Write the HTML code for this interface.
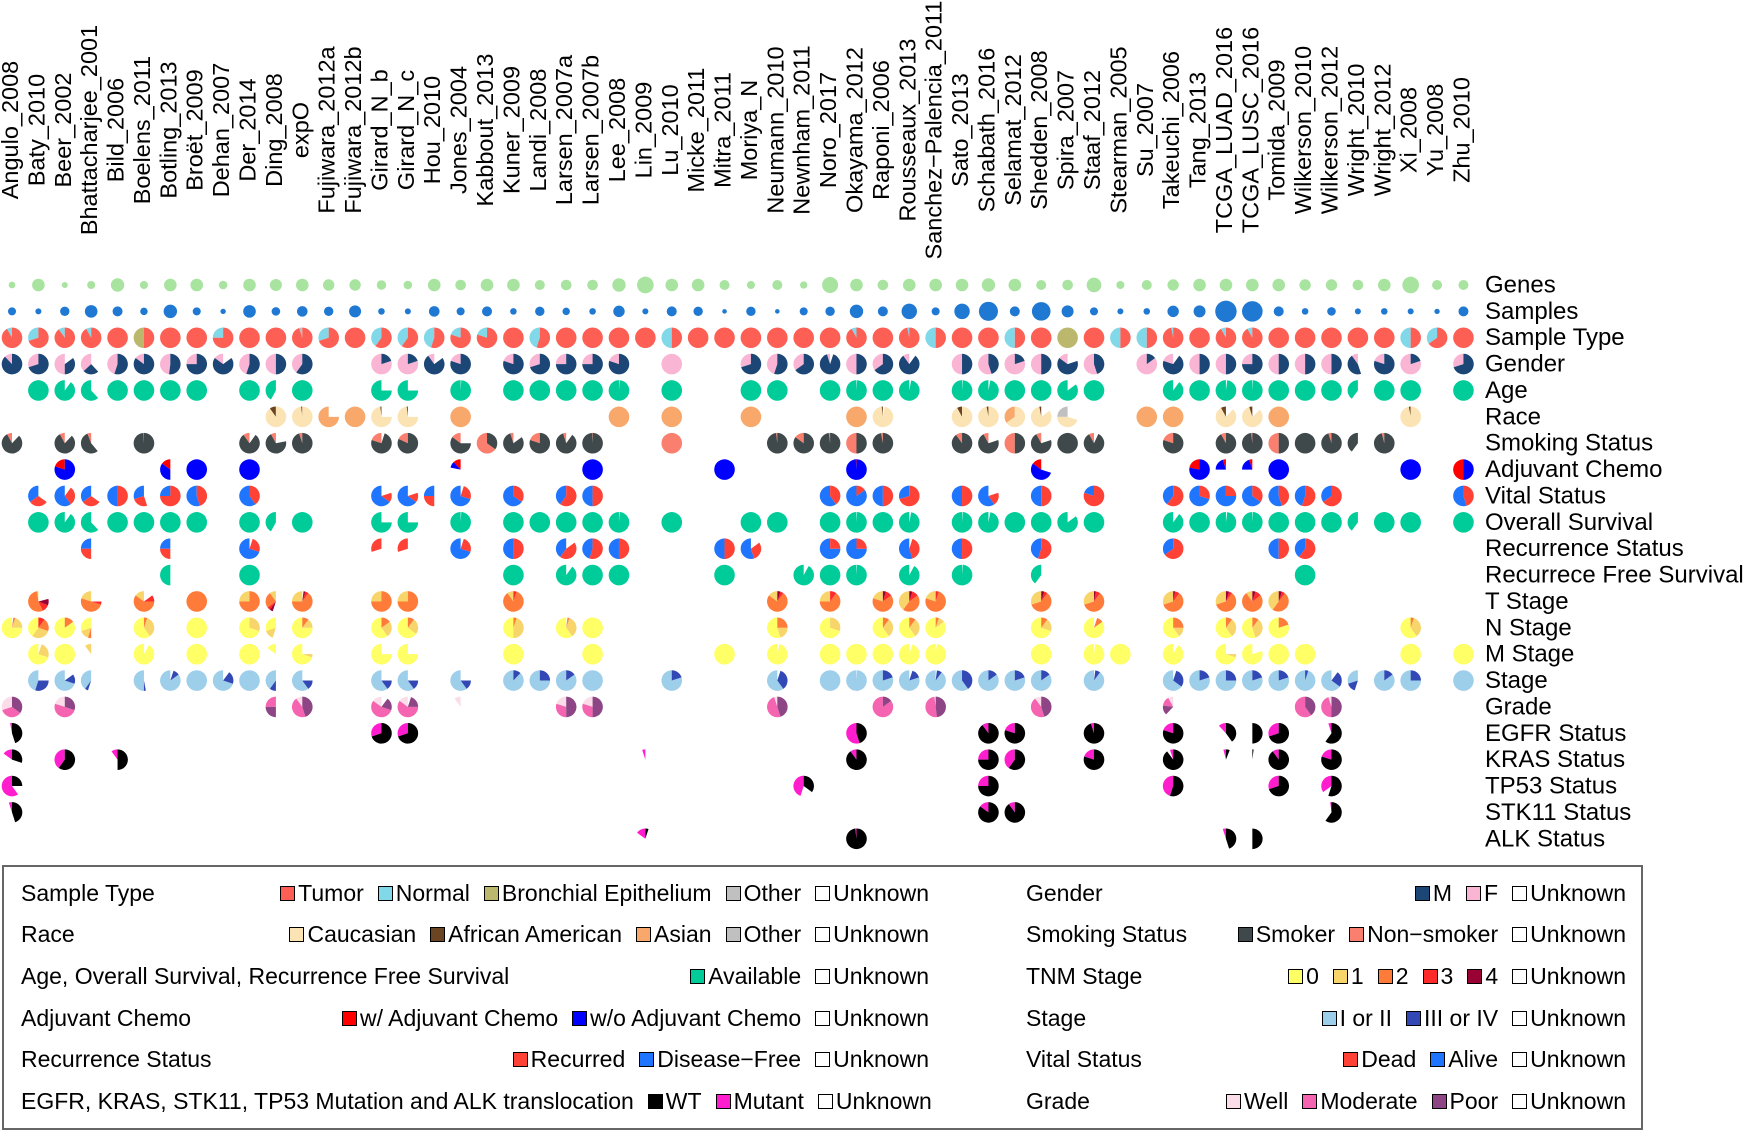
<!DOCTYPE html>
<html>
<head>
<meta charset="utf-8">
<style>
  html, body { margin:0; padding:0; background:#fff; }
  body { width:1747px; height:1132px; position:relative; overflow:hidden; font-family:"Liberation Sans", Arial, sans-serif; }
  #chart { position:absolute; left:0; top:0; }
  .legend-box { position:absolute; left:2px; top:865px; width:1637px; height:261px; border:2px solid #666; }
  .lrow { position:absolute; height:30px; display:flex; align-items:center; font-size:23px; color:#000; white-space:nowrap; }
  .lrow .lab { flex:1; }
  .item { display:flex; align-items:center; margin-left:14px; }
  .sw { width:13px; height:13px; border:1px solid #000; margin-right:3px; }
</style>
</head>
<body>
<svg id="chart" width="1747" height="860"></svg>

<div class="legend-box"></div>
<div id="legend"></div>

<script>
// ---------- data ----------
const _ = null;
const datasets = ["Angulo_2008","Baty_2010","Beer_2002","Bhattacharjee_2001","Bild_2006","Boelens_2011","Botling_2013","Broët_2009","Dehan_2007","Der_2014","Ding_2008","expO","Fujiwara_2012a","Fujiwara_2012b","Girard_N_b","Girard_N_c","Hou_2010","Jones_2004","Kabbout_2013","Kuner_2009","Landi_2008","Larsen_2007a","Larsen_2007b","Lee_2008","Lin_2009","Lu_2010","Micke_2011","Mitra_2011","Moriya_N","Neumann_2010","Newnham_2011","Noro_2017","Okayama_2012","Raponi_2006","Rousseaux_2013","Sanchez\u2212Palencia_2011","Sato_2013","Schabath_2016","Selamat_2012","Shedden_2008","Spira_2007","Staaf_2012","Stearman_2005","Su_2007","Takeuchi_2006","Tang_2013","TCGA_LUAD_2016","TCGA_LUSC_2016","Tomida_2009","Wilkerson_2010","Wilkerson_2012","Wright_2010","Wright_2012","Xi_2008","Yu_2008","Zhu_2010"];
const rowLabels = ["Genes","Samples","Sample Type","Gender","Age","Race","Smoking Status","Adjuvant Chemo","Vital Status","Overall Survival","Recurrence Status","Recurrece Free Survival","T Stage","N Stage","M Stage","Stage","Grade","EGFR Status","KRAS Status","TP53 Status","STK11 Status","ALK Status"];

// genes in thousands
const genes = [4.3,15.5,3.5,6.3,17.5,6.3,15.5,15.5,7.2,15.5, 14,15.5,12.7,12.7,8.6,7.2,15.5,11,15.5,15.5, 9.8,11,11,17.5,27,15.5,15.5,9.8,6.3,9.8, 5.3,25,15.5,11,15.5,15.5,15.5,17.5,15.5,9.8, 11,21,6.3,9.8,12.7,15.5,15.5,15.5,15.5,12.7, 12.7,11,15.5,27,9.8,9.8];
const samples = [76,43,104,188,118,65,212,76,34,188, 87,133,104,170,51,43,133,76,118,51, 104,65,51,154,43,118,104,25,104,25, 76,104,212,118,280,76,280,430,118,409, 170,76,43,51,154,170,541,501,118,51, 87,43,51,43,34,118];

// [Normal, Bronchial, Other, Tumor]
const T1=[0,0,0,1];
const sampleType = [[.08,0,0,.92],[.3,0,0,.7],[.1,0,0,.9],[.08,0,0,.92],T1,[0,.5,0,.5],T1,T1,[.25,0,0,.75],T1,
 T1,[0,0,.05,.95],[.3,0,0,.7],T1,[.4,0,0,.6],[.4,0,0,.6],[.45,0,0,.55],[.2,0,0,.8],[.2,0,0,.8],T1,
 [.45,0,0,.55],T1,T1,T1,T1,[.5,0,0,.5],T1,T1,T1,T1,
 T1,T1,[.08,0,0,.92],T1,[.03,0,0,.97],[.5,0,0,.5],T1,T1,[.5,0,0,.5],T1,
 [0,1,0,0],T1,[.5,0,0,.5],[.5,0,0,.5],[.03,0,0,.97],T1,[.08,0,0,.92],[.08,0,0,.92],T1,T1,
 T1,T1,T1,[.5,0,0,.5],[.35,0,0,.65],T1];
// [F, M]
const gender = [[.12,.88],[.3,.7],[.5,.35],[.37,.25],[.45,.55],[.15,.85],[.48,.52],[.25,.75],[.15,.7],[.45,.55],
 [.5,.5],[.4,.6],_,_,[.8,.2],[.8,.2],[.1,.75],[.2,.8],_,[.2,.8],
 [.3,.7],[.25,.75],[.25,.75],[.2,.8],_,[1,0],_,_,[.3,.7],[.45,.55],
 [.35,.65],[.05,.9],[.5,.5],[.35,.65],[.1,.8],_,[.5,.5],[.55,.45],[.8,.2],[.5,.5],
 [.15,.65],[.55,.45],_,[.85,.15],[.2,.7],[.5,.5],[.5,.5],[.25,.75],[.5,.5],[.5,.5],
 [.5,.5],[.1,.45],[.2,.8],[.8,.2],_,[.3,.7]];
// [Available]
const age = [_,[1],[.9],[.62],[1],[1],[1],[1],_,[1],
 [.42],[1],_,_,[.75],[.75],_,[.99],_,[1],
 [1],[1],[1],[.99],_,[1],_,_,[1],[1],
 _,[1],[.99],[1],[.97],_,[.99],[.97],[1],[1],
 [.85],[1],_,_,[.9],[1],[.98],[.99],[1],[1],
 [1],[.4],[1],[1],_,[1]];
// [African American, Asian, Other, Caucasian]
const race = [_,_,_,_,_,_,_,_,_,_,
 [.1,0,0,.9],[.02,0,0,.98],[0,.75,0,0],[0,1,0,0],[.02,0,0,.73],[.02,0,0,.73],_,[0,1,0,0],_,_,
 _,_,_,[0,1,0,0],_,[0,1,0,0],_,_,[0,1,0,0],_,
 _,_,[0,1,0,0],[.02,0,0,.95],_,_,[.08,0,0,.92],[.03,0,0,.97],[0,.35,0,.65],[.03,0,0,.82],
 [0,0,.25,.45],_,_,[0,1,0,0],[0,1,0,0],_,[.08,0,0,.8],[.05,0,0,.82],[0,1,0,0],_,
 _,_,_,[.03,0,0,.97],_,_];
// [Non-smoker, Smoker]
const smoking = [[.08,.8],_,[.08,.8],[.06,.55],_,[.01,.99],_,_,_,[.1,.8],
 [.08,.7],[.05,.95],_,_,[.2,.75],[.18,.82],_,[.15,.6],[.65,.35],[.05,.8],
 [.2,.8],[.05,.85],[.01,.99],_,_,[1,0],_,_,_,[.02,.98],
 [.15,.85],[.02,.98],[.5,.5],[.03,.97],_,_,[.1,.9],[.08,.72],[.5,.5],[.08,.72],
 [0,1],[.08,.85],_,_,[.2,.8],_,[.08,.92],[.02,.98],[.5,.5],[0,1],
 [.05,.95],[0,.4],[.04,.96],_,_,_];
// [w/ chemo, w/o chemo]
const adjuvant = [_,_,[.2,.8],_,_,_,[.15,.35],[0,1],_,[0,1],
 _,_,_,_,_,_,_,[.12,.1],_,_,
 _,_,[0,1],_,_,_,_,[0,1],_,_,
 _,_,[.01,.99],_,_,_,_,_,_,[.15,.55],
 _,_,_,_,_,[.22,.78],[.05,.2],[.05,.2],[0,1],_,
 _,_,_,[0,1],_,[.5,.5]];
// [Alive, Dead]
const vital = [_,[.35,.3],[.6,.3],[.35,.3],[.5,.5],[.3,.25],[.25,.75],[.55,.45],_,[.6,.4],
 _,_,_,_,[.65,.15],[.65,.15],[.25,.25],[.7,.25],_,[.65,.35],
 _,[.4,.6],[.5,.5],_,_,_,_,_,_,_,
 _,[.6,.4],[.85,.15],[.5,.5],[.3,.7],_,[.5,.5],[.6,.2],_,[.5,.5],
 _,[.2,.8],_,_,[.4,.6],[.7,.3],[.75,.25],[.65,.35],[.55,.45],[.45,.55],
 [.35,.65],_,_,_,_,[.55,.45]];
const overallSurvival = [_,[1],[.9],[.62],[1],[1],[1],[1],_,[1],
 [.42],[1],_,_,[.75],[.75],_,[.99],_,[1],
 [1],[1],[1],[.99],_,[1],_,_,[1],[1],
 _,[1],[.99],[1],[.97],_,[.99],[.97],[1],[1],
 [.85],[1],_,_,[.9],[1],[.98],[.99],[1],[1],
 [1],[.4],[1],[1],_,[1]];
// [Disease-free, Recurred]
const recurrence = [_,_,_,[.25,.25],_,_,[.25,.25],_,_,[.7,.25],
 _,_,_,_,[0,.3],[0,.3],_,[.7,.25],_,[.5,.5],
 _,[.4,.45],[.45,.55],[.5,.5],_,_,_,[.5,.5],[.55,.3],_,
 _,[.75,.25],[.75,.25],_,[.55,.4],_,[.5,.5],_,_,[.45,.55],
 _,_,_,_,[.35,.65],_,_,_,[.5,.5],[.4,.6],
 _,_,_,_,_,_];
const rfs = [_,_,_,_,_,_,[.5],_,_,[1],
 _,_,_,_,_,_,_,_,_,[1],
 _,[.9],[1],[1],_,_,_,[1],_,_,
 [.92],[1],[.99],_,[.92],_,[.99],_,_,[.4],
 _,_,_,_,_,_,_,_,_,[1],
 _,_,_,_,_,_];
// [0,1,2,3,4]
const tStage = [_,[0,.02,.55,.12,.1],_,[0,.2,.5,.05,0],_,[0,.15,.6,.1,0],_,[0,0,1,0,0],_,[0,.25,.75,0,0],
 [0,.1,.25,.05,.05],[0,.25,.65,.05,.03],_,_,[0,.25,.75,0,0],[0,.25,.75,0,0],_,_,_,[0,.1,.85,.05,0],
 _,_,_,_,_,_,_,_,_,[0,.15,.75,.05,.05],
 _,[0,.25,.65,.1,0],_,[0,.2,.65,.1,.05],[0,.4,.45,.1,.05],[0,.2,.75,.05,0],_,_,_,[0,.3,.6,.05,.05],
 _,[0,.3,.6,.07,.03],_,_,[0,.3,.6,.07,.03],_,[0,.3,.6,.05,.05],[0,.1,.75,.1,.05],[0,.4,.5,.05,.05],_,
 _,_,_,_,_,_];
const nStage = [[.75,.2,.03,0],[.4,.3,.2,.1],[.85,0,.15,0],[.3,.15,.05,0],_,[.6,.35,.05,0],_,[1,0,0,0],_,[.7,.3,0,0],
 [.3,.15,0,0],[.75,.15,.1,0],_,_,[.6,.25,.15,0],[.65,.25,.1,0],_,_,_,[.5,.45,.05,0],
 _,[.6,.35,.03,0],[1,0,0,0],_,_,_,_,_,_,[.55,.2,.25,0],
 _,[.7,.3,0,0],_,[.6,.3,.1,0],[.6,.3,.1,0],[.85,.1,.05,0],_,_,_,[.7,.2,.1,0],
 _,[.85,0,.1,0],_,_,[.6,.15,.25,0],_,[.6,.3,.1,0],[.55,.35,.1,0],[.8,0,.2,0],_,
 _,_,_,[.6,.35,.05,0],_,_];
const mStage = [_,[.7,.25],[1,0],[0,.1],_,[.92,0],_,[1,0],_,[1,0],
 [.15,0],[.7,.05],_,_,[.75,0],[.75,0],_,_,_,[1,0],
 _,_,[1,0],_,_,_,_,[1,0],_,[.95,.01],
 _,[1,0],[1,0],[1,0],[.95,0],[.98,0],_,_,_,[1,0],
 _,[.98,0],[1,0],_,[.92,0],_,[.7,.05],[.8,0],[1,0],[1,0],
 _,_,_,[1,0],_,[1,0]];
// [I or II, III or IV]
const stage = [_,[.45,.3],[.7,.15],[.4,.05],_,[.5,.03],[.85,.1],[1,0],[.7,.2],[1,0],
 [.4,.1],[.6,.15],_,_,[.6,.15],[.6,.15],_,[.6,.15],_,[.88,.12],
 [.75,.25],[.85,.15],[1,0],_,_,[.8,.2],_,_,_,[.6,.35],
 _,[1,0],[.99,0],[.8,.2],[.8,.15],[.9,.08],[.6,.4],[.85,.15],[.8,.2],[.85,.15],
 _,[.9,.08],_,_,[.65,.3],[.8,.2],[.75,.25],[.8,.2],[.8,.2],[.95,.05],
 [.65,.25],[.3,.15],[.85,.15],[.75,.25],_,[1,0]];
// [Well, Moderate, Poor]
const grade = [[.3,.35,.35],_,[.2,.5,.3],_,_,_,_,_,_,_,
 [0,.25,.25],[.1,.45,.45],_,_,[.15,.55,.2],[.15,.6,.2],_,[.1,0,0],_,_,
 _,[.2,.3,.5],[.2,.3,.5],_,_,_,_,_,_,[.05,.5,.45],
 _,_,_,[0,.85,.15],_,[.02,.5,.48],_,_,_,[.1,.45,.45],
 _,_,_,_,[.08,.15,.15],_,_,_,_,[0,.6,.4],
 [.05,.45,.5],_,_,_,_,_];
// [Mutant, WT]
const egfr = [[.03,.45],_,_,_,_,_,_,_,_,_,
 _,_,_,_,[.3,.7],[.3,.7],_,_,_,_,
 _,_,_,_,_,_,_,_,_,_,
 _,_,[.55,.45],_,_,_,_,[.1,.9],[.2,.8],_,
 _,[.05,.95],_,_,[.2,.8],_,[.12,.4],[0,.5],[.3,.7],_,
 [.05,.6],_,_,_,_,_];
const kras = [[.15,.3],_,[.4,.6],_,[.1,.5],_,_,_,_,_,
 _,_,_,_,_,_,_,_,_,_,
 _,_,_,_,[.05,0],_,_,_,_,_,
 _,_,[.1,.9],_,_,_,_,[.25,.75],[.4,.6],_,
 _,[.2,.8],_,_,[.05,.9],_,[.04,.06],[0,.02],[.1,.9],_,
 [.2,.8],_,_,_,_,_];
const tp53 = [[.6,.25],_,_,_,_,_,_,_,_,_,
 _,_,_,_,_,_,_,_,_,_,
 _,_,_,_,_,_,_,_,_,_,
 [.45,.35],_,_,_,_,_,_,[.25,.75],_,_,
 _,_,_,_,[.45,.55],_,_,_,[.3,.7],_,
 [.35,.55],_,_,_,_,_];
const stk11 = [[.05,.45],_,_,_,_,_,_,_,_,_,
 _,_,_,_,_,_,_,_,_,_,
 _,_,_,_,_,_,_,_,_,_,
 _,_,_,_,_,_,_,[.15,.85],[.1,.9],_,
 _,_,_,_,_,_,_,_,_,_,
 [.02,.6],_,_,_,_,_];
const alk = [_,_,_,_,_,_,_,_,_,_,
 _,_,_,_,_,_,_,_,_,_,
 _,_,_,_,[.15,.05],_,_,_,_,_,
 _,_,[.02,.98],_,_,_,_,_,_,_,
 _,_,_,_,_,_,[.05,.45],[0,.5],_,_,
 _,_,_,_,_,_];

// colors per row (drawing order)
const colSampleType = ["#80d8e8","#bbb86e","#c0c0c0","#fe5f55"];
const colGender = ["#fab4d4","#1b4675"];
const colAvail = ["#00cc99"];
const colRace = ["#6b4423","#f7a86a","#c0c0c0","#fbe3b4"];
const colSmoking = ["#fa7f6e","#3f484a"];
const colAdjuvant = ["#ff0000","#0000ff"];
const colVital = ["#1f75fe","#ff4136"];
const colTNM = ["#ffff66","#f7d56a","#ff7b39","#ff2b2b","#990033"];
const colStage = ["#9dceea","#3249b5"];
const colGrade = ["#fadde8","#f564b0","#8e4585"];
const colMut = ["#ff1dce","#000000"];

// [name, data, colors, index at which the unknown (white) gap is inserted; -1 = end]
const pieRows = [
  ["sample-type", sampleType, colSampleType, -1],
  ["gender", gender, colGender, -1],
  ["age", age, colAvail, -1],
  ["race", race, colRace, -1],
  ["smoking-status", smoking, colSmoking, -1],
  ["adjuvant-chemo", adjuvant, colAdjuvant, -1],
  ["vital-status", vital, colVital, -1],
  ["overall-survival", overallSurvival, colAvail, -1],
  ["recurrence-status", recurrence, colVital, -1],
  ["recurrence-free-survival", rfs, colAvail, -1],
  ["t-stage", tStage, colTNM, -1],
  ["n-stage", nStage, colTNM, -1],
  ["m-stage", mStage, colTNM, -1],
  ["stage", stage, colStage, -1],
  ["grade", grade, colGrade, -1],
  ["egfr-status", egfr, colMut, 1],
  ["kras-status", kras, colMut, 1],
  ["tp53-status", tp53, colMut, 1],
  ["stk11-status", stk11, colMut, 1],
  ["alk-status", alk, colMut, 1]
];

// ---------- layout ----------
const NS = "http://www.w3.org/2000/svg";
const svg = document.getElementById("chart");
const X0 = 12, DX = 26.39, Y0 = 285, DY = 26.37, R = 10.3;
function xCol(i){ return X0 + DX*i; }
function yRow(j){ return Y0 + DY*j; }
function rGenes(v){ return 1.6*Math.sqrt(v); }
function rSamples(v){ return 0.46*Math.sqrt(v); }

function mk(tag, attrs){
  const el = document.createElementNS(NS, tag);
  for (const k in attrs) el.setAttribute(k, attrs[k]);
  return el;
}

// column labels
datasets.forEach((name, i) => {
  const cx = xCol(i) - 2, cy = 130;
  const t = mk("text", {x: cx, y: cy, transform: `rotate(-90 ${cx} ${cy})`, "text-anchor":"middle", "dominant-baseline":"central", "font-size":"23.5", "font-family":"Liberation Sans, Arial, sans-serif", fill:"#000"});
  
  
  t.textContent = name;
  svg.appendChild(t);
});

// row labels
rowLabels.forEach((name, j) => {
  const t = mk("text", {x: 1485, y: yRow(j), "dominant-baseline":"central", "font-size":"24", "font-family":"Liberation Sans, Arial, sans-serif", fill:"#000"});
  
  
  t.textContent = name;
  svg.appendChild(t);
});

// genes & samples bubbles
genes.forEach((v, i) => {
  const c = mk("circle", {cx: xCol(i), cy: yRow(0), r: rGenes(v), fill: "#a8e4a0"});
  
  
  svg.appendChild(c);
});
samples.forEach((v, i) => {
  const c = mk("circle", {cx: xCol(i), cy: yRow(1), r: rSamples(v), fill: "#1f78d1"});
  
  
  svg.appendChild(c);
});

// pies: slices drawn counter-clockwise from 12 o'clock, unknown = white gap
function pt(cx, cy, r, a){ return [cx - r*Math.sin(a), cy - r*Math.cos(a)]; }
function drawPie(g, cx, cy, fr, colors, unkAt){
  const sum = fr.reduce((s, v) => s + (v || 0), 0);
  const unk = Math.max(0, 1 - sum);
  const parts = fr.map((f, k) => [f, colors[k]]);
  if (unkAt >= 0) parts.splice(unkAt, 0, [unk, null]); else parts.push([unk, null]);
  let a = 0;
  parts.forEach(p => {
    const f = p[0];
    if (!f || f <= 0) return;
    if (p[1]) {
      let el;
      if (f >= 0.999) {
        el = mk("circle", {cx, cy, r: R, fill: p[1]});
      } else {
        const a2 = a + f*2*Math.PI;
        const p1 = pt(cx, cy, R, a), p2 = pt(cx, cy, R, a2);
        const large = f > 0.5 ? 1 : 0;
        el = mk("path", {d: `M${cx},${cy} L${p1[0].toFixed(2)},${p1[1].toFixed(2)} A${R},${R} 0 ${large} 0 ${p2[0].toFixed(2)},${p2[1].toFixed(2)} Z`, fill: p[1]});
      }
      
      
      g.appendChild(el);
    }
    a += f*2*Math.PI;
  });
}
pieRows.forEach((row, idx) => {
  const j = idx + 2;
  const g = mk("g", {});
  
  
  svg.appendChild(g);
  row[1].forEach((fr, i) => {
    if (!fr) return;
    drawPie(g, xCol(i), yRow(j), fr, row[2], row[3]);
  });
});

// ---------- legend ----------
const legendLeft = [
  ["Sample Type", [["#fe5f55","Tumor"],["#80d8e8","Normal"],["#bbb86e","Bronchial Epithelium"],["#c0c0c0","Other"],["#ffffff","Unknown"]]],
  ["Race", [["#fbe3b4","Caucasian"],["#6b4423","African American"],["#f7a86a","Asian"],["#c0c0c0","Other"],["#ffffff","Unknown"]]],
  ["Age, Overall Survival, Recurrence Free Survival", [["#00cc99","Available"],["#ffffff","Unknown"]]],
  ["Adjuvant Chemo", [["#ff0000","w/ Adjuvant Chemo"],["#0000ff","w/o Adjuvant Chemo"],["#ffffff","Unknown"]]],
  ["Recurrence Status", [["#ff4136","Recurred"],["#1f75fe","Disease\u2212Free"],["#ffffff","Unknown"]]],
  ["EGFR, KRAS, STK11, TP53 Mutation and ALK translocation", [["#000000","WT"],["#ff1dce","Mutant"],["#ffffff","Unknown"]]]
];
const legendRight = [
  ["Gender", [["#1b4675","M"],["#fab4d4","F"],["#ffffff","Unknown"]]],
  ["Smoking Status", [["#3f484a","Smoker"],["#fa7f6e","Non\u2212smoker"],["#ffffff","Unknown"]]],
  ["TNM Stage", [["#ffff66","0"],["#f7d56a","1"],["#ff7b39","2"],["#ff2b2b","3"],["#990033","4"],["#ffffff","Unknown"]]],
  ["Stage", [["#9dceea","I or II"],["#3249b5","III or IV"],["#ffffff","Unknown"]]],
  ["Vital Status", [["#ff4136","Dead"],["#1f75fe","Alive"],["#ffffff","Unknown"]]],
  ["Grade", [["#fadde8","Well"],["#f564b0","Moderate"],["#8e4585","Poor"],["#ffffff","Unknown"]]]
];
const legend = document.getElementById("legend");
function buildLegend(list, left, right){
  list.forEach((row, k) => {
    const cy = 893 + 41.7*k;
    const d = document.createElement("div");
    d.className = "lrow";
    d.style.left = left + "px";
    d.style.width = (right - left) + "px";
    d.style.top = (cy - 15) + "px";
    
    
    const lab = document.createElement("span");
    lab.className = "lab";
    lab.textContent = row[0];
    
    
    d.appendChild(lab);
    row[1].forEach(it => {
      const item = document.createElement("span");
      item.className = "item";
      
      
      const sw = document.createElement("span");
      sw.className = "sw";
      sw.style.background = it[0];
      
      
      const tx = document.createElement("span");
      tx.textContent = it[1];
      item.appendChild(sw);
      item.appendChild(tx);
      d.appendChild(item);
    });
    legend.appendChild(d);
  });
}
buildLegend(legendLeft, 21, 929);
buildLegend(legendRight, 1026, 1626);
</script>
</body>
</html>
